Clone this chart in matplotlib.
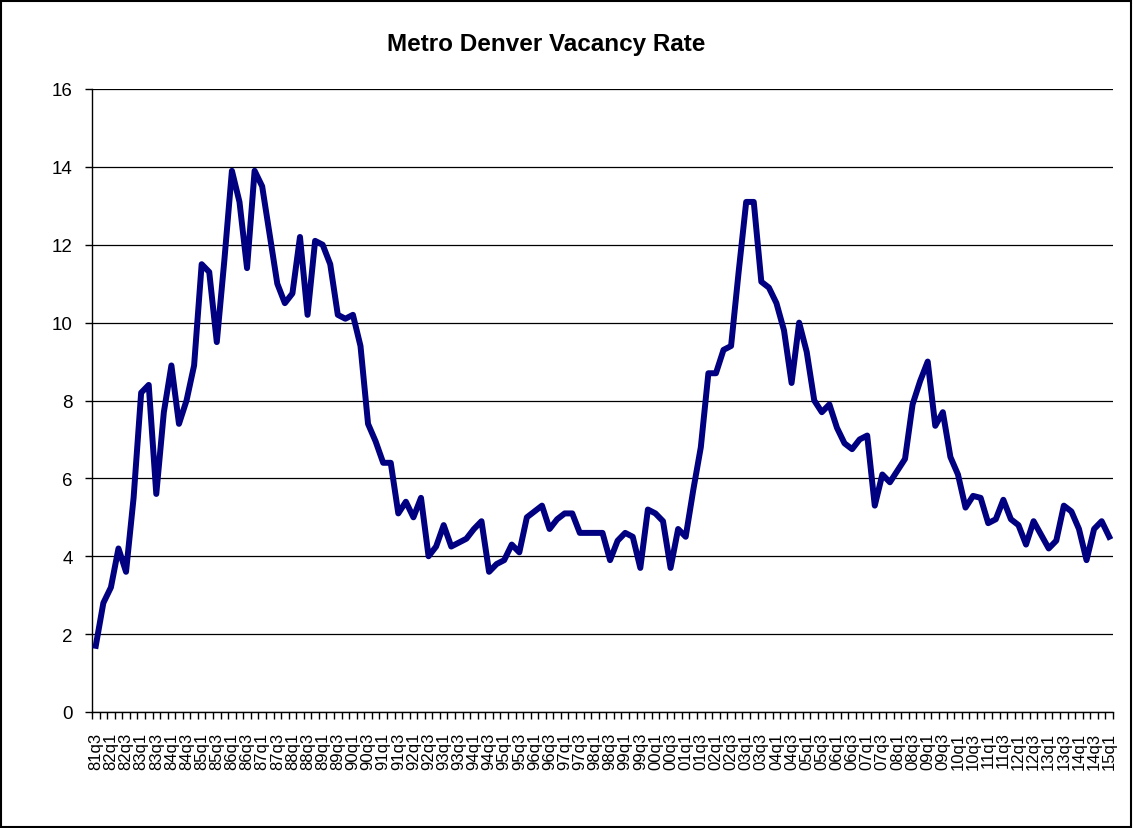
import matplotlib
matplotlib.use("Agg")
import matplotlib.pyplot as plt
from matplotlib.patches import Rectangle

plt.rcParams['font.family'] = ['Liberation Sans', 'DejaVu Sans']

# Quarters from 1981 Q3 to 2015 Q1
quarters = [f"{y % 100:02d}q{q}" for y in range(1981, 2016) for q in range(1, 5)]
quarters = quarters[quarters.index("81q3"):quarters.index("15q1") + 1]

vacancy = [
    1.7, 2.8, 3.2, 4.2, 3.6, 5.5, 8.2, 8.4, 5.6, 7.7,
    8.9, 7.4, 8.0, 8.9, 11.5, 11.3, 9.5, 11.6, 13.9, 13.1,
    11.4, 13.9, 13.5, 12.25, 11.0, 10.5, 10.75, 12.2, 10.2, 12.1,
    12.0, 11.5, 10.2, 10.1, 10.2, 9.4, 7.4, 6.95, 6.4, 6.4,
    5.1, 5.4, 5.0, 5.5, 4.0, 4.25, 4.8, 4.25, 4.35, 4.45,
    4.7, 4.9, 3.6, 3.8, 3.9, 4.3, 4.1, 5.0, 5.15, 5.3,
    4.7, 4.95, 5.1, 5.1, 4.6, 4.6, 4.6, 4.6, 3.9, 4.4,
    4.6, 4.5, 3.7, 5.2, 5.1, 4.9, 3.7, 4.7, 4.5, 5.7,
    6.8, 8.7, 8.7, 9.3, 9.4, 11.3, 13.1, 13.1, 11.05, 10.9,
    10.5, 9.8, 8.45, 10.0, 9.25, 8.0, 7.7, 7.9, 7.3, 6.9,
    6.75, 7.0, 7.1, 5.3, 6.1, 5.9, 6.2, 6.5, 7.9, 8.5,
    9.0, 7.35, 7.7, 6.55, 6.1, 5.25, 5.55, 5.5, 4.85, 4.95,
    5.45, 4.95, 4.8, 4.3, 4.9, 4.55, 4.2, 4.4, 5.3, 5.15,
    4.7, 3.9, 4.7, 4.9, 4.5,
]

y_ticks = [0, 2, 4, 6, 8, 10, 12, 14, 16]
title = "Metro Denver Vacancy Rate"

W, H = 1133, 829
fig = plt.figure(figsize=(W / 100, H / 100), dpi=100)
left, right, top, bottom = 92, 1113, 90, 713
ax = fig.add_axes([left / W, (H - bottom) / H, (right - left) / W, (bottom - top) / H])

x = list(range(len(quarters)))
ax.plot(x, vacancy, color="#000080", linewidth=4.3, solid_joinstyle="round", zorder=3)

ax.set_xlim(-0.5, len(quarters) - 0.5)
ax.set_ylim(0, 16)
ax.set_yticks(y_ticks)
ax.set_yticklabels([str(t) for t in y_ticks], fontsize=13.5)
ax.tick_params(axis="y", direction="out", length=5, width=1, pad=9, color="black")

ax.set_xticks(x[::2])
ax.set_xticklabels(quarters[::2], rotation=90, fontsize=12)
ax.set_xticks([i - 0.5 for i in range(len(quarters) + 1)], minor=True)
ax.tick_params(axis="x", which="major", length=0, pad=14)
ax.tick_params(axis="x", which="minor", direction="out", length=5, width=1, color="black")

ax.grid(axis="y", color="black", linewidth=0.9, zorder=1)
ax.set_axisbelow(True)
for s in ["top", "right"]:
    ax.spines[s].set_visible(False)
for s in ["left", "bottom"]:
    ax.spines[s].set_color("black")
    ax.spines[s].set_linewidth(1)

fig.text(546 / W, 1 - 44 / H, title, fontsize=17.5, fontweight="bold",
         ha="center", va="center")

fig.patches.append(Rectangle((0.001, 0.001), 0.997, 0.997, transform=fig.transFigure,
                             fill=False, edgecolor="black", linewidth=1.5))

fig.savefig("out.png", dpi=100)
